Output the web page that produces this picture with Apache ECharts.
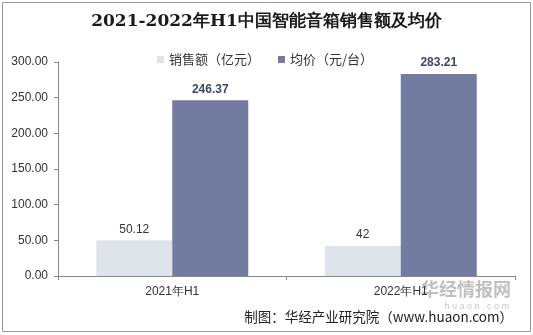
<!DOCTYPE html>
<html><head><meta charset="utf-8">
<script src="https://cdn.jsdelivr.net/npm/echarts@6/dist/echarts.min.js"></script>
<style>html,body{margin:0;padding:0;background:#fff}#c{width:533px;height:335px}</style>
</head><body><div id="c"></div>
<script>
const categories = ['2021年H1', '2022年H1'];
const salesValues = [50.12, 42];
const priceValues = [246.37, 283.21];
const yTicks = [0, 50, 100, 150, 200, 250, 300];
const seriesNames = ['销售额（亿元）', '均价（元/台）'];

const chart = echarts.init(document.getElementById('c'));
chart.setOption({
  animation: false,
  backgroundColor: '#fff',
  title: {
    text: '2021-2022年H1中国智能音箱销售额及均价',
    left: 'center', top: 8,
    textStyle: { fontFamily: 'DejaVu Serif', fontWeight: 'bold', fontSize: 17, color: '#1a1a1a' }
  },
  legend: {
    top: 48, left: 152, itemGap: 18, itemWidth: 7, itemHeight: 7, icon: 'rect',
    textStyle: { fontFamily: 'Noto Sans CJK SC', fontSize: 13, color: '#333' },
    data: seriesNames
  },
  grid: { left: 58, right: 18, top: 62, bottom: 59 },
  xAxis: {
    type: 'category', data: categories,
    axisLine: { lineStyle: { color: '#888' } },
    axisTick: { show: true, length: 4, lineStyle: { color: '#888' } },
    axisLabel: { fontFamily: 'Liberation Sans', fontSize: 12, color: '#333', margin: 10 }
  },
  yAxis: {
    type: 'value', min: yTicks[0], max: yTicks[yTicks.length - 1], interval: 50,
    axisLine: { show: true, lineStyle: { color: '#888' } },
    axisTick: { show: true, length: 4, lineStyle: { color: '#888' } },
    splitLine: { show: false },
    axisLabel: { fontFamily: 'Liberation Sans', fontSize: 12, color: '#333', margin: 10,
      formatter: v => v.toFixed(2) }
  },
  series: [
    { name: seriesNames[0], type: 'bar', data: salesValues, barWidth: 76, barGap: '0%',
      itemStyle: { color: '#dfe3ea' },
      label: { show: true, position: 'top', distance: 5, fontFamily: 'Liberation Sans', fontSize: 12, color: '#333' } },
    { name: seriesNames[1], type: 'bar', data: priceValues, barWidth: 76,
      itemStyle: { color: '#737ca0' },
      label: { show: true, position: 'top', distance: 5, fontFamily: 'Liberation Sans', fontSize: 12, fontWeight: 'bold', color: '#3b4668' } }
  ],
  graphic: [
    { type: 'rect', shape: { x: 2.5, y: 2.5, width: 528, height: 329 }, style: { fill: null, stroke: '#999', lineWidth: 1 }, silent: true },
    { type: 'text', right: 22, top: 280, style: { text: '华经情报网', font: 'bold 18px "Noto Sans CJK SC"', fill: 'rgba(140,140,140,0.55)' } },
    { type: 'text', right: 24, top: 302, style: { text: 'h u a o n . c o m', font: '9px "Liberation Sans"', fill: 'rgba(160,160,160,0.6)' } },
    { type: 'text', right: 20, top: 310, style: { text: '制图：华经产业研究院（www.huaon.com）', font: '13.5px "Noto Sans CJK SC"', fill: '#222' } }
  ]
});
</script></body></html>
